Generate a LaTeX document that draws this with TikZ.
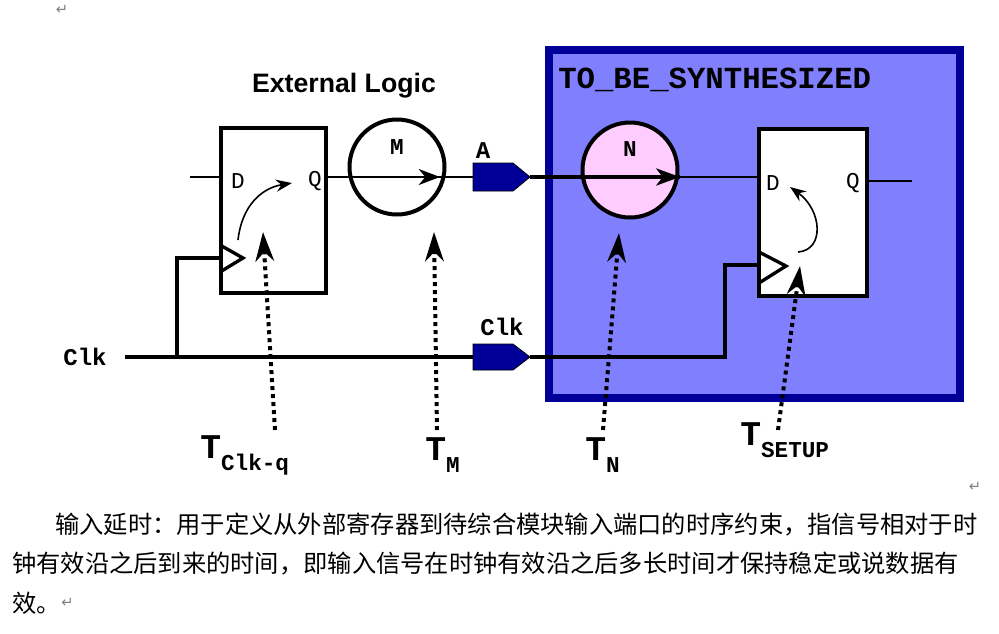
\documentclass[tikz,border=0pt]{standalone}
\usepackage{fontspec}
\setmainfont{Liberation Sans}
\newfontfamily\mono{Liberation Mono}
\newfontfamily\cjk{Noto Sans CJK SC}
\newfontfamily\djfont{DejaVu Sans}
\usetikzlibrary{arrows.meta}
\definecolor{boxblue}{HTML}{8080FF}
\definecolor{darkb}{HTML}{000099}
\definecolor{pinkn}{HTML}{FFCCFF}
\tikzset{
 ff/.style={draw,line width=3pt,fill=white},
 thin/.style={line width=1pt},
 thick5/.style={line width=3.5pt},
 port/.style={draw=black,line width=0.6pt,fill=darkb},
 lbl/.style={font=\mono\bfseries\fontsize{18}{18}\selectfont,inner sep=0pt},
 tlbl/.style={font=\mono\bfseries\fontsize{26}{26}\selectfont,inner sep=0pt},
 dots/.style={line width=3pt,dash pattern=on 3pt off 3pt,-{Stealth[length=22pt,width=14pt,inset=7pt]}},
 cur/.style={line width=1.2pt,-{Stealth[length=12pt,width=9pt,inset=4pt]}},
 ret/.style={font=\djfont\fontsize{11}{11}\selectfont,text=gray,inner sep=0pt},
 cn/.style={font=\cjk\fontsize{18.2}{18}\selectfont,inner sep=0pt,anchor=west},
}
\begin{document}
\begin{tikzpicture}[x=0.75pt,y=-0.75pt]
\useasboundingbox (0,0) rectangle (999,633);
% synthesized box
\node[draw=darkb,line width=5.5pt,fill=boxblue,minimum width=411pt*0.75,minimum height=348pt*0.75,inner sep=0pt] (box) at (754.5,224) {};
\node[font=\mono\bfseries\fontsize{23}{23}\selectfont,inner sep=0pt,anchor=west] (title) at (558,80) {TO\_BE\_SYNTHESIZED};
\node[font=\bfseries\fontsize{20}{20}\selectfont,inner sep=0pt] (ext) at (344,86) {External Logic};
% left ff
\node[ff,minimum width=105*0.75pt,minimum height=165*0.75pt,inner sep=0pt] (ff1) at (273.5,210.5) {};
\node[lbl,font=\mono\fontsize{17}{17}\selectfont] (d1) at (238,181) {D};
\node[lbl,font=\mono\fontsize{17}{17}\selectfont] (q1) at (315,181) {Q};
\coordinate (in1) at (190,177);
\draw[thin] (in1) -- (220,177);
\draw[line width=2.5pt] (220,245) -- (243,258) -- (220,272);
% right ff
\node[ff,minimum width=108*0.75pt,minimum height=167*0.75pt,inner sep=0pt] (ff2) at (813,212.5) {};
\node[lbl,font=\mono\fontsize{17}{17}\selectfont] (d2) at (773,183) {D};
\node[lbl,font=\mono\fontsize{17}{17}\selectfont] (q2) at (853,183) {Q};
\coordinate (out2) at (912,181);
\draw[thin] (ff2.east |- out2) -- (out2);
\draw[line width=2.5pt] (759,252) -- (786,266) -- (759,283);
% circles
\node[draw,line width=3pt,fill=white,circle,minimum size=95*0.75pt,inner sep=0pt] (m) at (397,167) {};
\node[draw,line width=3pt,fill=pinkn,circle,minimum size=95*0.75pt,inner sep=0pt] (n) at (630,170) {};
\node[lbl,font=\mono\bfseries\fontsize{17}{17}\selectfont] at (397,147) {M};
\node[lbl,font=\mono\bfseries\fontsize{17}{17}\selectfont] at (630,149) {N};
% ports
\draw[port] (473,163) -- (513,163) -- (530,177) -- (513,191) -- (473,191) -- cycle;
\node[lbl] (pa) at (483,151) {A};
\draw[port] (473,344) -- (513,344) -- (530,357) -- (513,370) -- (473,370) -- cycle;
\node[lbl] (pclk) at (502,327) {Clk};
\node[lbl] (clk) at (85,357) {Clk};
% signal lines
\draw[thin] (327,177) -- (473,177);
\draw[line width=1.5pt,-{Stealth[length=16pt,width=12pt,inset=5pt]}] (380,177) -- (440,177);
\draw[thick5] (530,177) -- (680,177);
\draw[line width=1.5pt,-{Stealth[length=18pt,width=13pt,inset=5pt]}] (640,177) -- (680,177);
\draw[thin] (680,177) -- (758,177);
% clock
\draw[thick5] (125,357) -- (473,357);
\draw[thick5] (530,357) -- (725,357) -- (725,265) -- (758,265);
\draw[thick5] (177,357) -- (177,258) -- (220,258);
% internal curves
\draw[cur] (238,240) .. controls (242,205) and (262,188) .. (292,183);
\draw[cur] (798,252) .. controls (825,250) and (822,210) .. (790,187);
% timing arrows
\coordinate (t1) at (275,430); \coordinate (t2) at (437,430);
\coordinate (t3) at (603,430); \coordinate (t4) at (778,430);
\draw[dots] (t1) -- (263,232);
\draw[dots] (t2) -- (434,232);
\draw[dots] (t3) -- (619,233);
\draw[dots] (t4) -- (800,266);
\node[tlbl,anchor=west] at (200,455) {T\raisebox{-9pt}{\fontsize{17}{17}\selectfont Clk-q}};
\node[tlbl,anchor=west] at (425,455) {T\raisebox{-9pt}{\fontsize{17}{17}\selectfont M}};
\node[tlbl,anchor=west] at (585,455) {T\raisebox{-9pt}{\fontsize{17}{17}\selectfont N}};
\node[tlbl,anchor=west] at (740,440) {T\raisebox{-9pt}{\fontsize{17}{17}\selectfont SETUP}};
% return marks
\node[ret] at (62,10) {↵};
\node[ret] at (975,487) {↵};
% text
\node[cn] at (55,525) {输入延时：用于定义从外部寄存器到待综合模块输入端口的时序约束，指信号相对于时};
\node[cn] at (12,564) {钟有效沿之后到来的时间，即输入信号在时钟有效沿之后多长时间才保持稳定或说数据有};
\node[cn] (last) at (12,603) {效。};
\node[ret,anchor=west] at (last.east) {↵};
\end{tikzpicture}
\end{document}
